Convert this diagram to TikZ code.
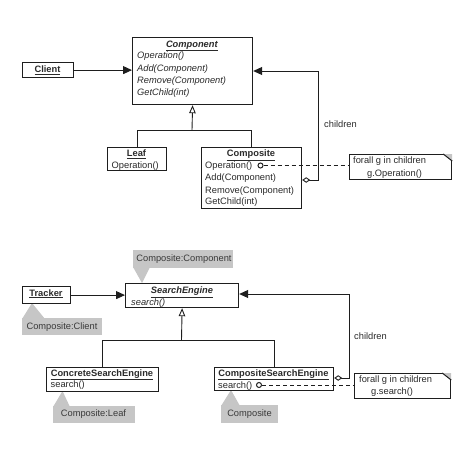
\documentclass[tikz,border=0pt]{standalone}
\usepackage{fontspec}
\setmainfont{Liberation Sans}
\usetikzlibrary{arrows.meta}
\definecolor{linec}{HTML}{1E1E1E}
\definecolor{textc}{HTML}{2A2A2A}
\definecolor{callc}{HTML}{C6C6C6}
\definecolor{calltext}{HTML}{3A3A3A}
\begin{document}
\begin{tikzpicture}[x=1pt,y=-1pt,
  box/.style={draw=linec,line width=1.2pt,fill=white,anchor=north west,inner sep=0pt},
  txt/.style={text=textc,font=\fontsize{9.3}{11}\selectfont,inner sep=0pt,anchor=base west},
  ttl/.style={txt,anchor=base},
  ctxt/.style={text=calltext,font=\fontsize{9.3}{11}\selectfont,inner sep=0pt,anchor=base},
  conn/.style={draw=linec,line width=0.9pt},
  filled/.style={-{Triangle[length=9pt,width=8pt]}},
  inherit/.style={-{Triangle[open,length=8pt,width=6.5pt,fill=white]}},
  agg/.style={{Diamond[open,length=8pt,width=5.5pt,fill=white]}-{Triangle[length=9pt,width=8pt]}},
  lollipop/.style={circle,draw=linec,line width=1pt,fill=white,minimum size=5pt,inner sep=0pt},
  dashline/.style={draw=linec,line width=1pt,dash pattern=on 4pt off 3pt},
  callout/.style={fill=callc},
]
\useasboundingbox (0,0) rectangle (474,450);

% ================= TOP =================
\node[box,minimum width=120pt,minimum height=67pt] (comp) at (132,37) {};
\node[ttl] (compT) at (192,47) {\underline{\textbf{\textit{Component}}}};
\node[txt] (compM1) at (137,58.7) {\textit{Operation()}};
\node[txt] (compM2) at (137,71) {\textit{Add(Component)}};
\node[txt] (compM3) at (137,83.3) {\textit{Remove(Component)}};
\node[txt] (compM4) at (137,95) {\textit{GetChild(int)}};

\node[box,minimum width=51pt,minimum height=15pt] (client) at (22,62) {};
\node[ttl] (clientT) at (47.5,72.5) {\underline{\textbf{Client}}};

\node[box,minimum width=59pt,minimum height=23pt] (leaf) at (107,147) {};
\node[ttl] (leafT) at (136.5,156.8) {\underline{\textbf{Leaf}}};
\node[txt] (leafM1) at (111.5,168.5) {Operation()};

\node[box,minimum width=100pt,minimum height=61pt] (compo) at (201,147) {};
\node[ttl] (compoT) at (251,156.8) {\underline{\textbf{Composite}}};
\node[txt] (compoM1) at (205,168.5) {Operation()};
\node[txt] (compoM2) at (205,180.8) {Add(Component)};
\node[txt] (compoM3) at (205,193.3) {Remove(Component)};
\node[txt] (compoM4) at (205,204.5) {GetChild(int)};

% note top
\node[box,minimum width=102pt,minimum height=25pt] (note1) at (349,154) {};
\node[txt] (note1a) at (353,163.5) {forall g in children};
\node[txt] (note1b) at (367,176) {g.Operation()};
\fill[callc] (note1.north east) ++(-9,0) -- ++(9,0) -- ++(0,7) -- cycle;
\draw[linec,line width=1pt] (note1.north east) ++(-9,0) -- ++(9,7);

% connectors top
\draw[conn,filled] (client.east) -- (comp.west |- client.east);
\coordinate (j1) at (192,130);
\draw[conn] (leaf.north) |- (j1);
\draw[conn] (compo.north) |- (j1);
\draw[conn,inherit] (j1) -- (comp.south);
\coordinate (agg1a) at (318,180);
\coordinate (agg1b) at (318,71);
\draw[conn,agg] (compo.east |- agg1a) -- (agg1a) -- (agg1b) -- (comp.east |- agg1b);
\node[txt,anchor=center] (ch1) at (340.5,124) {children};

\node[lollipop] (lp1) at (260.5,165.5) {};
\draw[dashline] (lp1.east) -- (lp1.east -| note1.west);

% ================= BOTTOM =================
% callouts (behind)
\fill[callout] (133,250) rectangle (233,268);
\fill[callout] (133,267) -- (150,267) -- (142,283) -- cycle;
\node[ctxt] (cc1) at (184,261.8) {Composite:Component};

\fill[callout] (22,318) rectangle (102,335);
\fill[callout] (22,319) -- (45,319) -- (32,303) -- cycle;
\node[ctxt] (cc2) at (62,329.2) {Composite:Client};

\fill[callout] (53,406) rectangle (135,423);
\fill[callout] (53,407) -- (70,407) -- (62.5,391) -- cycle;
\node[ctxt] (cc3) at (93.5,416.8) {Composite:Leaf};

\fill[callout] (221,405) rectangle (278,423);
\fill[callout] (221,406) -- (240,406) -- (231,390) -- cycle;
\node[ctxt] (cc4) at (249.5,416.8) {Composite};

\node[box,minimum width=113pt,minimum height=24pt] (se) at (125,283) {};
\node[ttl] (seT) at (182,293.5) {\underline{\textbf{\textit{SearchEngine}}}};
\node[txt] (seM1) at (131,305) {\textit{search()}};

\node[box,minimum width=48pt,minimum height=17pt] (tr) at (22,286) {};
\node[ttl] (trT) at (46,296.2) {\underline{\textbf{Tracker}}};

\node[box,minimum width=112pt,minimum height=24pt] (cse) at (46,367) {};
\node[ttl] (cseT) at (102,376.2) {\underline{\textbf{ConcreteSearchEngine}}};
\node[txt] (cseM1) at (50.5,387.5) {search()};

\node[box,minimum width=119pt,minimum height=23pt] (cpse) at (214,367) {};
\node[ttl] (cpseT) at (273.5,376.2) {\underline{\textbf{CompositeSearchEngine}}};
\node[txt] (cpseM1) at (218,388) {search()};

\node[box,minimum width=96pt,minimum height=25pt] (note2) at (354,373) {};
\node[txt] (note2a) at (359,382.5) {forall g in children};
\node[txt] (note2b) at (371,394.2) {g.search()};
\fill[callc] (note2.north east) ++(-9,0) -- ++(9,0) -- ++(0,7) -- cycle;
\draw[linec,line width=1pt] (note2.north east) ++(-9,0) -- ++(9,7);

\draw[conn,filled] (tr.east) -- (se.west |- tr.east);
\coordinate (j2) at (181.5,340);
\draw[conn] (cse.north) |- (j2);
\draw[conn] (cpse.north) |- (j2);
\draw[conn,inherit] (j2) -- (se.south);
\coordinate (agg2a) at (349,378);
\coordinate (agg2b) at (349,294);
\draw[conn,agg] (cpse.east |- agg2a) -- (agg2a) -- (agg2b) -- (se.east |- agg2b);
\node[txt,anchor=center] (ch2) at (370.5,336) {children};

\node[lollipop] (lp2) at (259,385) {};
\draw[dashline] (lp2.east) -- (lp2.east -| note2.west);
\end{tikzpicture}
\end{document}
